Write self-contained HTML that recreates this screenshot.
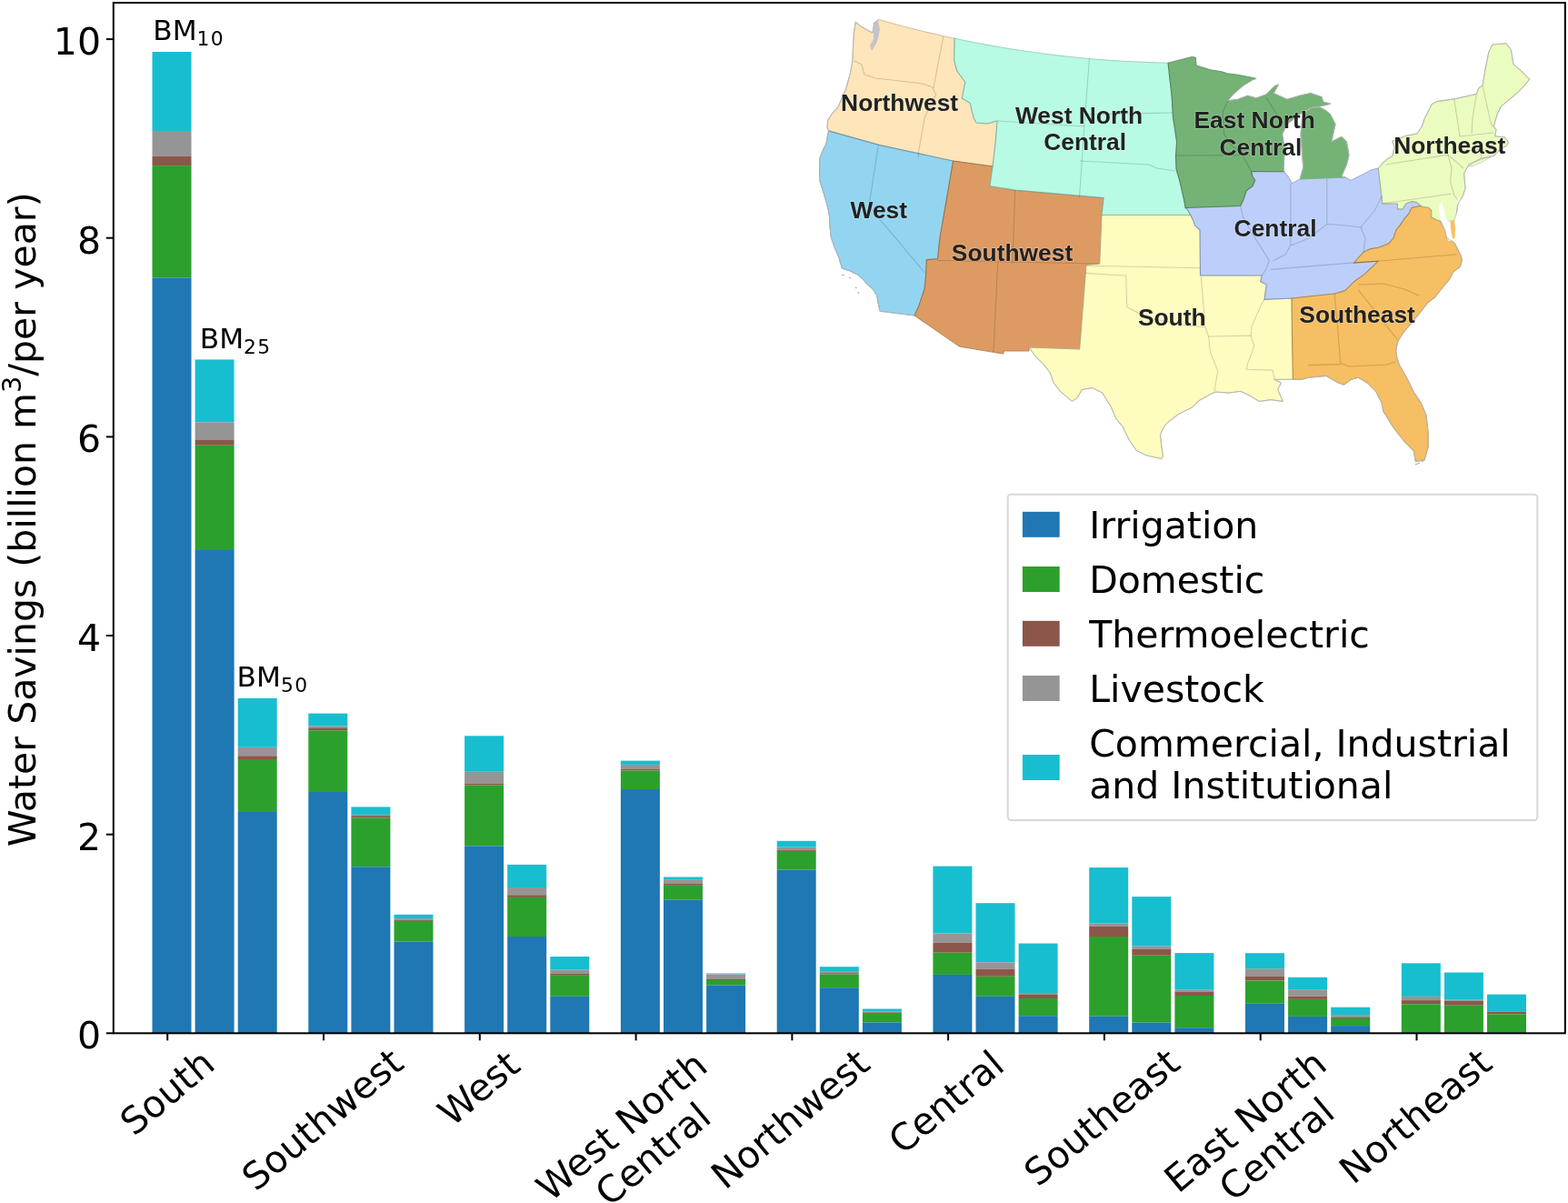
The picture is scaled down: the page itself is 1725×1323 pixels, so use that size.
<!DOCTYPE html>
<html><head><meta charset="utf-8"><title>Water Savings</title>
<style>
html,body{margin:0;padding:0;background:#fff;}
body{width:1725px;height:1323px;overflow:hidden;}
svg{display:block;}
.tk{font-family:"DejaVu Sans","Liberation Sans",sans-serif;font-size:41px;fill:#000;}
.bm{font-family:"DejaVu Sans","Liberation Sans",sans-serif;font-size:29.3px;fill:#000;}
.ml{font-family:"Liberation Sans",Arial,sans-serif;font-weight:bold;font-size:26.4px;fill:#222;stroke:#fff;stroke-opacity:0.3;stroke-width:1.6px;paint-order:stroke;stroke-linejoin:round;}
</style></head><body>
<svg width="1725" height="1323" viewBox="0 0 1725 1323">
<rect width="1725" height="1323" fill="#fff"/>
<rect x="167.5" y="57" width="43" height="87" fill="#17becf"/>
<rect x="167.5" y="144" width="43" height="27.8" fill="#959595"/>
<rect x="167.5" y="171.8" width="43" height="10.3" fill="#8c564b"/>
<rect x="167.5" y="182.1" width="43" height="123.3" fill="#2ca02c"/>
<rect x="167.5" y="305.4" width="43" height="830.9" fill="#1f77b4"/>
<rect x="214.6" y="395.4" width="43" height="69" fill="#17becf"/>
<rect x="214.6" y="464.4" width="43" height="19.6" fill="#959595"/>
<rect x="214.6" y="484" width="43" height="5.8" fill="#8c564b"/>
<rect x="214.6" y="489.8" width="43" height="115.2" fill="#2ca02c"/>
<rect x="214.6" y="605" width="43" height="531.3" fill="#1f77b4"/>
<rect x="261.7" y="767.9" width="43" height="53.9" fill="#17becf"/>
<rect x="261.7" y="821.8" width="43" height="9.5" fill="#959595"/>
<rect x="261.7" y="831.3" width="43" height="3.7" fill="#8c564b"/>
<rect x="261.7" y="835" width="43" height="57.1" fill="#2ca02c"/>
<rect x="261.7" y="892.1" width="43" height="244.2" fill="#1f77b4"/>
<rect x="339.3" y="784.6" width="43" height="14" fill="#17becf"/>
<rect x="339.3" y="798.6" width="43" height="1.7" fill="#959595"/>
<rect x="339.3" y="800.3" width="43" height="3" fill="#8c564b"/>
<rect x="339.3" y="803.3" width="43" height="67.7" fill="#2ca02c"/>
<rect x="339.3" y="871" width="43" height="265.3" fill="#1f77b4"/>
<rect x="386.4" y="887.4" width="43" height="8.5" fill="#17becf"/>
<rect x="386.4" y="895.9" width="43" height="1.3" fill="#959595"/>
<rect x="386.4" y="897.2" width="43" height="2.1" fill="#8c564b"/>
<rect x="386.4" y="899.3" width="43" height="54" fill="#2ca02c"/>
<rect x="386.4" y="953.3" width="43" height="183" fill="#1f77b4"/>
<rect x="433.5" y="1005.8" width="43" height="4.3" fill="#17becf"/>
<rect x="433.5" y="1010.1" width="43" height="1.4" fill="#959595"/>
<rect x="433.5" y="1011.5" width="43" height="1.4" fill="#8c564b"/>
<rect x="433.5" y="1012.9" width="43" height="22.8" fill="#2ca02c"/>
<rect x="433.5" y="1035.7" width="43" height="100.6" fill="#1f77b4"/>
<rect x="511.1" y="809.3" width="43" height="39.5" fill="#17becf"/>
<rect x="511.1" y="848.8" width="43" height="12.7" fill="#959595"/>
<rect x="511.1" y="861.5" width="43" height="1.8" fill="#8c564b"/>
<rect x="511.1" y="863.3" width="43" height="67.1" fill="#2ca02c"/>
<rect x="511.1" y="930.4" width="43" height="205.9" fill="#1f77b4"/>
<rect x="558.2" y="950.9" width="43" height="25.1" fill="#17becf"/>
<rect x="558.2" y="976" width="43" height="8.3" fill="#959595"/>
<rect x="558.2" y="984.3" width="43" height="2.6" fill="#8c564b"/>
<rect x="558.2" y="986.9" width="43" height="43.1" fill="#2ca02c"/>
<rect x="558.2" y="1030" width="43" height="106.3" fill="#1f77b4"/>
<rect x="605.3" y="1052" width="43" height="14.6" fill="#17becf"/>
<rect x="605.3" y="1066.6" width="43" height="3.9" fill="#959595"/>
<rect x="605.3" y="1070.5" width="43" height="1.6" fill="#8c564b"/>
<rect x="605.3" y="1072.1" width="43" height="23.7" fill="#2ca02c"/>
<rect x="605.3" y="1095.8" width="43" height="40.5" fill="#1f77b4"/>
<rect x="682.9" y="836.6" width="43" height="4.3" fill="#17becf"/>
<rect x="682.9" y="840.9" width="43" height="4.6" fill="#959595"/>
<rect x="682.9" y="845.5" width="43" height="2" fill="#8c564b"/>
<rect x="682.9" y="847.5" width="43" height="20.5" fill="#2ca02c"/>
<rect x="682.9" y="868" width="43" height="268.3" fill="#1f77b4"/>
<rect x="730" y="964.5" width="43" height="2.7" fill="#17becf"/>
<rect x="730" y="967.2" width="43" height="4.6" fill="#959595"/>
<rect x="730" y="971.8" width="43" height="2" fill="#8c564b"/>
<rect x="730" y="973.8" width="43" height="15.9" fill="#2ca02c"/>
<rect x="730" y="989.7" width="43" height="146.6" fill="#1f77b4"/>
<rect x="777.1" y="1070.5" width="43" height="1" fill="#17becf"/>
<rect x="777.1" y="1071.5" width="43" height="5" fill="#959595"/>
<rect x="777.1" y="1076.5" width="43" height="1.5" fill="#8c564b"/>
<rect x="777.1" y="1078" width="43" height="5.4" fill="#2ca02c"/>
<rect x="777.1" y="1083.4" width="43" height="52.9" fill="#1f77b4"/>
<rect x="854.7" y="924.8" width="43" height="6.9" fill="#17becf"/>
<rect x="854.7" y="931.7" width="43" height="2.8" fill="#959595"/>
<rect x="854.7" y="934.5" width="43" height="1.4" fill="#8c564b"/>
<rect x="854.7" y="935.9" width="43" height="20.7" fill="#2ca02c"/>
<rect x="854.7" y="956.6" width="43" height="179.7" fill="#1f77b4"/>
<rect x="901.8" y="1063.2" width="43" height="4.9" fill="#17becf"/>
<rect x="901.8" y="1068.1" width="43" height="2.1" fill="#959595"/>
<rect x="901.8" y="1070.2" width="43" height="1.4" fill="#8c564b"/>
<rect x="901.8" y="1071.6" width="43" height="14.6" fill="#2ca02c"/>
<rect x="901.8" y="1086.2" width="43" height="50.1" fill="#1f77b4"/>
<rect x="948.9" y="1109.5" width="43" height="3.1" fill="#17becf"/>
<rect x="948.9" y="1112.6" width="43" height="0.7" fill="#959595"/>
<rect x="948.9" y="1113.3" width="43" height="0.7" fill="#8c564b"/>
<rect x="948.9" y="1114" width="43" height="10.4" fill="#2ca02c"/>
<rect x="948.9" y="1124.4" width="43" height="11.9" fill="#1f77b4"/>
<rect x="1026.4" y="952.6" width="43" height="73.9" fill="#17becf"/>
<rect x="1026.4" y="1026.5" width="43" height="10.3" fill="#959595"/>
<rect x="1026.4" y="1036.8" width="43" height="10.9" fill="#8c564b"/>
<rect x="1026.4" y="1047.7" width="43" height="24.2" fill="#2ca02c"/>
<rect x="1026.4" y="1071.9" width="43" height="64.4" fill="#1f77b4"/>
<rect x="1073.5" y="993.2" width="43" height="65.1" fill="#17becf"/>
<rect x="1073.5" y="1058.3" width="43" height="7.5" fill="#959595"/>
<rect x="1073.5" y="1065.8" width="43" height="8" fill="#8c564b"/>
<rect x="1073.5" y="1073.8" width="43" height="22" fill="#2ca02c"/>
<rect x="1073.5" y="1095.8" width="43" height="40.5" fill="#1f77b4"/>
<rect x="1120.6" y="1037.5" width="43" height="54.5" fill="#17becf"/>
<rect x="1120.6" y="1092" width="43" height="1.5" fill="#959595"/>
<rect x="1120.6" y="1093.5" width="43" height="4.5" fill="#8c564b"/>
<rect x="1120.6" y="1098" width="43" height="19.2" fill="#2ca02c"/>
<rect x="1120.6" y="1117.2" width="43" height="19.1" fill="#1f77b4"/>
<rect x="1198.2" y="954.1" width="43" height="61.5" fill="#17becf"/>
<rect x="1198.2" y="1015.6" width="43" height="3.3" fill="#959595"/>
<rect x="1198.2" y="1018.9" width="43" height="11.1" fill="#8c564b"/>
<rect x="1198.2" y="1030" width="43" height="87.7" fill="#2ca02c"/>
<rect x="1198.2" y="1117.7" width="43" height="18.6" fill="#1f77b4"/>
<rect x="1245.3" y="986.1" width="43" height="54.5" fill="#17becf"/>
<rect x="1245.3" y="1040.6" width="43" height="3" fill="#959595"/>
<rect x="1245.3" y="1043.6" width="43" height="7.2" fill="#8c564b"/>
<rect x="1245.3" y="1050.8" width="43" height="73.7" fill="#2ca02c"/>
<rect x="1245.3" y="1124.5" width="43" height="11.8" fill="#1f77b4"/>
<rect x="1292.4" y="1048.1" width="43" height="40.5" fill="#17becf"/>
<rect x="1292.4" y="1088.6" width="43" height="1.9" fill="#959595"/>
<rect x="1292.4" y="1090.5" width="43" height="4.5" fill="#8c564b"/>
<rect x="1292.4" y="1095" width="43" height="35.2" fill="#2ca02c"/>
<rect x="1292.4" y="1130.2" width="43" height="6.1" fill="#1f77b4"/>
<rect x="1370" y="1048.2" width="43" height="17" fill="#17becf"/>
<rect x="1370" y="1065.2" width="43" height="8.7" fill="#959595"/>
<rect x="1370" y="1073.9" width="43" height="4.6" fill="#8c564b"/>
<rect x="1370" y="1078.5" width="43" height="25.3" fill="#2ca02c"/>
<rect x="1370" y="1103.8" width="43" height="32.5" fill="#1f77b4"/>
<rect x="1417.1" y="1074.8" width="43" height="13.4" fill="#17becf"/>
<rect x="1417.1" y="1088.2" width="43" height="7.5" fill="#959595"/>
<rect x="1417.1" y="1095.7" width="43" height="3.2" fill="#8c564b"/>
<rect x="1417.1" y="1098.9" width="43" height="19" fill="#2ca02c"/>
<rect x="1417.1" y="1117.9" width="43" height="18.4" fill="#1f77b4"/>
<rect x="1464.2" y="1107.7" width="43" height="8.4" fill="#17becf"/>
<rect x="1464.2" y="1116.1" width="43" height="2.9" fill="#959595"/>
<rect x="1464.2" y="1119" width="43" height="1" fill="#8c564b"/>
<rect x="1464.2" y="1120" width="43" height="8.1" fill="#2ca02c"/>
<rect x="1464.2" y="1128.1" width="43" height="8.2" fill="#1f77b4"/>
<rect x="1541.8" y="1059.3" width="43" height="36.6" fill="#17becf"/>
<rect x="1541.8" y="1095.9" width="43" height="4.2" fill="#959595"/>
<rect x="1541.8" y="1100.1" width="43" height="4.2" fill="#8c564b"/>
<rect x="1541.8" y="1104.3" width="43" height="31.2" fill="#2ca02c"/>
<rect x="1541.8" y="1135.5" width="43" height="0.8" fill="#1f77b4"/>
<rect x="1588.9" y="1069.5" width="43" height="30.1" fill="#17becf"/>
<rect x="1588.9" y="1099.6" width="43" height="1.4" fill="#959595"/>
<rect x="1588.9" y="1101" width="43" height="4.7" fill="#8c564b"/>
<rect x="1588.9" y="1105.7" width="43" height="29.8" fill="#2ca02c"/>
<rect x="1588.9" y="1135.5" width="43" height="0.8" fill="#1f77b4"/>
<rect x="1636" y="1093.6" width="43" height="18.4" fill="#17becf"/>
<rect x="1636" y="1112" width="43" height="0.5" fill="#959595"/>
<rect x="1636" y="1112.5" width="43" height="2.9" fill="#8c564b"/>
<rect x="1636" y="1115.4" width="43" height="20.1" fill="#2ca02c"/>
<rect x="1636" y="1135.5" width="43" height="0.8" fill="#1f77b4"/>
<polygon points="967,21.6 980.9,25.5 994.7,29.2 1008.5,32.7 1022.4,36.1 1036.2,39.3 1050.1,42.3 1049.7,67.1 1052.8,78 1061.7,90.3 1058.3,108 1067.1,113.4 1071.2,129.7 1074,135 1086,136 1097,133 1095,158 1092,183 1048.5,177 968,159.6 911.5,143.9 910,140 910.6,132.4 916,124 922.2,117.5 926,108 930.4,98.4 935,82 937.9,67.1 938.5,50.8 939.5,35 941.3,24.1 947,29 955,33.5 960,36 961,30 963,24 967,21.8" fill="#fee5ba" stroke="#fee5ba" stroke-width="0.8" stroke-linejoin="round"/>
<polygon points="911.5,143.9 968,159.6 1048.5,177 1040.2,225.6 1034.1,260.4 1031.5,284.7 1019.3,285.6 1018.5,303.9 1017,318 1010.6,336.9 1006,347 968,342.2 966,333 964.6,324.8 960,318 954.1,312.6 949,307 943.7,302.2 935,298 926.3,295.2 922.8,283 918,272 914.1,260.4 913,250 912.4,237.8 911,230 908.9,222.2 906,212 902,199.6 901.5,186 902,173.5 905.4,164.8 908.9,157.8 911.5,143.9" fill="#93d5f0" stroke="#93d5f0" stroke-width="0.8" stroke-linejoin="round"/>
<polygon points="1048.5,177 1092,183 1088.9,204.8 1116.7,209.1 1214.1,217.6 1212,236.5 1209.8,290 1195,291.5 1187.7,384 1132,382 1132,386 1104.5,386 1103.7,389.1 1055.8,381.2 1006,347 1010.6,336.9 1017,318 1018.5,303.9 1019.3,285.6 1031.5,284.7 1034.1,260.4 1040.2,225.6 1048.5,177" fill="#dd9b63" stroke="#dd9b63" stroke-width="0.8" stroke-linejoin="round"/>
<polygon points="1050.1,42.3 1069.7,46.3 1089.2,49.9 1108.8,53.3 1128.4,56.3 1148,59 1167.5,61.4 1187.1,63.5 1206.7,65.2 1226.3,66.7 1245.8,67.8 1265.4,68.6 1285,69.2 1287,88 1289.2,107 1290.4,128.8 1292.2,140 1294.5,156 1293.5,172 1294,186 1297.5,198 1300,208.5 1303,222 1304,228.5 1306.4,230.5 1309.7,236.5 1212,236.5 1214.1,217.6 1116.7,209.1 1088.9,204.8 1092,183 1095,158 1097,133 1086,136 1074,135 1071.2,129.7 1067.1,113.4 1058.3,108 1061.7,90.3 1052.8,78 1049.7,67.1 1050.1,41.3" fill="#b8fbe4" stroke="#b8fbe4" stroke-width="0.8" stroke-linejoin="round"/>
<polygon points="1309.7,236.5 1313,243.2 1314.7,248.2 1320,253 1320.5,303 1388.3,303 1386.6,309.7 1393.3,313 1391,329.4 1421,328 1421.5,370 1422.4,417.3 1409.4,417.3 1402,417.3 1409.4,421 1405.7,428.4 1411.3,441.4 1398.3,439.6 1385.3,441.4 1376,435.8 1364.9,430.3 1351.9,432.1 1337.1,431 1330,434.4 1319.1,440.5 1311.6,448 1296.4,455.5 1284,465 1280.2,470 1276.5,478 1277.7,489.6 1279.6,502.6 1277.7,504.5 1261,500.8 1249.9,495.2 1242.4,484.1 1235,469.2 1227.6,460 1222,447 1212.8,432.1 1201.6,426.6 1190.5,428.4 1184.9,437.7 1179.4,441.4 1166.4,430.3 1159,421 1155.3,409.9 1147.8,400.6 1138.6,391.3 1132,382 1187.7,384 1195,291.5 1209.8,290 1212,236.5 1309.7,236.5" fill="#fffcc0" stroke="#fffcc0" stroke-width="0.8" stroke-linejoin="round"/>
<polygon points="1364.6,226.5 1367.9,219.9 1371.2,209.9 1378,204.7 1380.7,198 1378,194 1376.6,188.5 1412.7,188.8 1416.5,193.3 1421.5,201.6 1430,197 1479.7,194.9 1483,196.6 1486.4,198.3 1496.3,193.3 1509.6,186.6 1516.3,185 1520.8,224 1537.4,224 1537.4,229.9 1543.2,229.9 1546.6,224 1553.2,221.5 1558.2,222.4 1563.2,226.5 1553.2,228.2 1549.9,234.8 1544.9,240.7 1539.9,248.1 1535.7,253.1 1533.3,261.4 1527.4,268.1 1516.6,272.2 1506.7,273.9 1500,277.2 1489.7,288.9 1516.3,287.2 1501.3,301.4 1489.7,309.7 1479.7,319.6 1468.1,323 1421,328 1391,329.4 1393.3,313 1386.6,309.7 1388.3,303 1320.5,303 1320,253 1314.7,248.2 1313,243.2 1309.7,236.5 1306.4,230.5 1304,228.5 1364.6,226.5" fill="#bccffb" stroke="#bccffb" stroke-width="0.8" stroke-linejoin="round"/>
<polygon points="1285,69.2 1311.3,62.5 1315.4,63.2 1316,72 1331.7,76.8 1344,78.8 1350.7,80.9 1361.6,82.2 1375.2,84.9 1382,86.3 1378,87.7 1367.1,94.5 1356.2,104 1350.7,110.8 1361.6,109.4 1372.5,105.3 1382,108 1392.9,104 1402.4,94.5 1406.5,93.1 1401.1,102.6 1416,109.4 1429.7,105.3 1441.9,102.6 1454.1,106.7 1455.5,112.1 1463.7,114.2 1455.5,116.2 1440.5,119 1429.7,125.7 1416,136.6 1410.6,147.5 1413.3,163.8 1412,184.2 1412.7,188.8 1376.6,188.5 1378,194 1380.7,198 1378,204.7 1371.2,209.9 1367.9,219.9 1364.6,226.5 1304,228.5 1303,222 1300,208.5 1297.5,198 1294,186 1293.5,172 1294.5,156 1292.2,140 1290.4,128.8 1289.2,107 1287,88 1285,69.2" fill="#74b276" stroke="#74b276" stroke-width="0.8" stroke-linejoin="round"/>
<polygon points="1421,328 1468.1,323 1479.7,319.6 1489.7,309.7 1501.3,301.4 1516.3,287.2 1489.7,288.9 1500,277.2 1506.7,273.9 1516.6,272.2 1527.4,268.1 1533.3,261.4 1535.7,253.1 1539.9,248.1 1544.9,240.7 1549.9,234.8 1553.2,228.2 1563.2,226.5 1564.8,227.4 1571.5,228.2 1574.8,231.5 1574.8,239 1579.8,241.5 1584.8,243.2 1589.8,253.1 1591.4,261.4 1598,265.6 1600.6,267.9 1604.5,275.7 1607,281 1608.4,286 1606.4,293.4 1598.6,299.3 1594.7,307.2 1584.8,319 1578.9,326.8 1571.1,332.7 1563.2,342.6 1555.3,352.4 1543.5,366.2 1537.6,376 1535.7,385.8 1537,394 1539.6,401.6 1547.5,415.3 1555.3,431.1 1563.2,442.9 1569.1,456.6 1571.1,476.3 1571.1,492 1567.1,505.8 1557.3,507.7 1555.3,496 1545.5,486.1 1537.6,476.3 1531.7,468.4 1525.8,458.6 1521.9,452.7 1519.9,442.9 1514,431.1 1504.2,421.2 1494.4,415.3 1486.5,417.3 1478.6,423.2 1472.7,421.2 1459,413.4 1439.3,415.3 1432.4,417.3 1422.4,417.3 1421.5,370 1421,328" fill="#f6bf63" stroke="#f6bf63" stroke-width="0.8" stroke-linejoin="round"/>
<polygon points="1516.3,185 1520.8,179.7 1526,175 1531.7,171.5 1534,162 1531.7,155.2 1545.3,149.7 1558.9,147 1564.4,138.8 1567.1,130.7 1575.2,114.4 1580.7,111.6 1599.7,108.9 1624.2,103.5 1626.9,96.7 1631,94 1633.7,77.6 1637.8,57.2 1641.9,49 1656.9,47.7 1662.3,54.5 1665,70.8 1673.2,77.6 1682.7,87.1 1677.3,93.9 1667.8,103.5 1661,108.9 1651.4,117.1 1647.3,125.2 1643.3,138.8 1646,142.9 1644.6,149.7 1655.5,151.1 1659.6,156.5 1656.9,160.6 1651.4,163.3 1643.3,171.5 1629.7,174.2 1616,181 1610.6,190.5 1612,207.2 1609.3,215.4 1605.2,222.2 1603.8,224.9 1602.4,234.4 1600,242 1595.6,243 1584.8,243.2 1579.8,241.5 1574.8,239 1574.8,231.5 1571.5,228.2 1564.8,227.4 1563.2,226.5 1558.2,222.4 1553.2,221.5 1546.6,224 1543.2,229.9 1537.4,229.9 1537.4,224 1520.8,224 1516.3,185" fill="#ebfcc0" stroke="#ebfcc0" stroke-width="0.8" stroke-linejoin="round"/>
<polygon points="967,21.6 980.9,25.5 994.7,29.2 1008.5,32.7 1022.4,36.1 1036.2,39.3 1050.1,42.3 1049.7,67.1 1052.8,78 1061.7,90.3 1058.3,108 1067.1,113.4 1071.2,129.7 1074,135 1086,136 1097,133 1095,158 1092,183 1048.5,177 968,159.6 911.5,143.9 910,140 910.6,132.4 916,124 922.2,117.5 926,108 930.4,98.4 935,82 937.9,67.1 938.5,50.8 939.5,35 941.3,24.1 947,29 955,33.5 960,36 961,30 963,24 967,21.8" fill="none" stroke="#000" stroke-opacity="0.16" stroke-width="1.1" stroke-linejoin="round"/>
<polygon points="911.5,143.9 968,159.6 1048.5,177 1040.2,225.6 1034.1,260.4 1031.5,284.7 1019.3,285.6 1018.5,303.9 1017,318 1010.6,336.9 1006,347 968,342.2 966,333 964.6,324.8 960,318 954.1,312.6 949,307 943.7,302.2 935,298 926.3,295.2 922.8,283 918,272 914.1,260.4 913,250 912.4,237.8 911,230 908.9,222.2 906,212 902,199.6 901.5,186 902,173.5 905.4,164.8 908.9,157.8 911.5,143.9" fill="none" stroke="#000" stroke-opacity="0.16" stroke-width="1.1" stroke-linejoin="round"/>
<polygon points="1048.5,177 1092,183 1088.9,204.8 1116.7,209.1 1214.1,217.6 1212,236.5 1209.8,290 1195,291.5 1187.7,384 1132,382 1132,386 1104.5,386 1103.7,389.1 1055.8,381.2 1006,347 1010.6,336.9 1017,318 1018.5,303.9 1019.3,285.6 1031.5,284.7 1034.1,260.4 1040.2,225.6 1048.5,177" fill="none" stroke="#000" stroke-opacity="0.16" stroke-width="1.1" stroke-linejoin="round"/>
<polygon points="1050.1,42.3 1069.7,46.3 1089.2,49.9 1108.8,53.3 1128.4,56.3 1148,59 1167.5,61.4 1187.1,63.5 1206.7,65.2 1226.3,66.7 1245.8,67.8 1265.4,68.6 1285,69.2 1287,88 1289.2,107 1290.4,128.8 1292.2,140 1294.5,156 1293.5,172 1294,186 1297.5,198 1300,208.5 1303,222 1304,228.5 1306.4,230.5 1309.7,236.5 1212,236.5 1214.1,217.6 1116.7,209.1 1088.9,204.8 1092,183 1095,158 1097,133 1086,136 1074,135 1071.2,129.7 1067.1,113.4 1058.3,108 1061.7,90.3 1052.8,78 1049.7,67.1 1050.1,41.3" fill="none" stroke="#000" stroke-opacity="0.16" stroke-width="1.1" stroke-linejoin="round"/>
<polygon points="1309.7,236.5 1313,243.2 1314.7,248.2 1320,253 1320.5,303 1388.3,303 1386.6,309.7 1393.3,313 1391,329.4 1421,328 1421.5,370 1422.4,417.3 1409.4,417.3 1402,417.3 1409.4,421 1405.7,428.4 1411.3,441.4 1398.3,439.6 1385.3,441.4 1376,435.8 1364.9,430.3 1351.9,432.1 1337.1,431 1330,434.4 1319.1,440.5 1311.6,448 1296.4,455.5 1284,465 1280.2,470 1276.5,478 1277.7,489.6 1279.6,502.6 1277.7,504.5 1261,500.8 1249.9,495.2 1242.4,484.1 1235,469.2 1227.6,460 1222,447 1212.8,432.1 1201.6,426.6 1190.5,428.4 1184.9,437.7 1179.4,441.4 1166.4,430.3 1159,421 1155.3,409.9 1147.8,400.6 1138.6,391.3 1132,382 1187.7,384 1195,291.5 1209.8,290 1212,236.5 1309.7,236.5" fill="none" stroke="#000" stroke-opacity="0.16" stroke-width="1.1" stroke-linejoin="round"/>
<polygon points="1364.6,226.5 1367.9,219.9 1371.2,209.9 1378,204.7 1380.7,198 1378,194 1376.6,188.5 1412.7,188.8 1416.5,193.3 1421.5,201.6 1430,197 1479.7,194.9 1483,196.6 1486.4,198.3 1496.3,193.3 1509.6,186.6 1516.3,185 1520.8,224 1537.4,224 1537.4,229.9 1543.2,229.9 1546.6,224 1553.2,221.5 1558.2,222.4 1563.2,226.5 1553.2,228.2 1549.9,234.8 1544.9,240.7 1539.9,248.1 1535.7,253.1 1533.3,261.4 1527.4,268.1 1516.6,272.2 1506.7,273.9 1500,277.2 1489.7,288.9 1516.3,287.2 1501.3,301.4 1489.7,309.7 1479.7,319.6 1468.1,323 1421,328 1391,329.4 1393.3,313 1386.6,309.7 1388.3,303 1320.5,303 1320,253 1314.7,248.2 1313,243.2 1309.7,236.5 1306.4,230.5 1304,228.5 1364.6,226.5" fill="none" stroke="#000" stroke-opacity="0.16" stroke-width="1.1" stroke-linejoin="round"/>
<polygon points="1285,69.2 1311.3,62.5 1315.4,63.2 1316,72 1331.7,76.8 1344,78.8 1350.7,80.9 1361.6,82.2 1375.2,84.9 1382,86.3 1378,87.7 1367.1,94.5 1356.2,104 1350.7,110.8 1361.6,109.4 1372.5,105.3 1382,108 1392.9,104 1402.4,94.5 1406.5,93.1 1401.1,102.6 1416,109.4 1429.7,105.3 1441.9,102.6 1454.1,106.7 1455.5,112.1 1463.7,114.2 1455.5,116.2 1440.5,119 1429.7,125.7 1416,136.6 1410.6,147.5 1413.3,163.8 1412,184.2 1412.7,188.8 1376.6,188.5 1378,194 1380.7,198 1378,204.7 1371.2,209.9 1367.9,219.9 1364.6,226.5 1304,228.5 1303,222 1300,208.5 1297.5,198 1294,186 1293.5,172 1294.5,156 1292.2,140 1290.4,128.8 1289.2,107 1287,88 1285,69.2" fill="none" stroke="#000" stroke-opacity="0.16" stroke-width="1.1" stroke-linejoin="round"/>
<polygon points="1421,328 1468.1,323 1479.7,319.6 1489.7,309.7 1501.3,301.4 1516.3,287.2 1489.7,288.9 1500,277.2 1506.7,273.9 1516.6,272.2 1527.4,268.1 1533.3,261.4 1535.7,253.1 1539.9,248.1 1544.9,240.7 1549.9,234.8 1553.2,228.2 1563.2,226.5 1564.8,227.4 1571.5,228.2 1574.8,231.5 1574.8,239 1579.8,241.5 1584.8,243.2 1589.8,253.1 1591.4,261.4 1598,265.6 1600.6,267.9 1604.5,275.7 1607,281 1608.4,286 1606.4,293.4 1598.6,299.3 1594.7,307.2 1584.8,319 1578.9,326.8 1571.1,332.7 1563.2,342.6 1555.3,352.4 1543.5,366.2 1537.6,376 1535.7,385.8 1537,394 1539.6,401.6 1547.5,415.3 1555.3,431.1 1563.2,442.9 1569.1,456.6 1571.1,476.3 1571.1,492 1567.1,505.8 1557.3,507.7 1555.3,496 1545.5,486.1 1537.6,476.3 1531.7,468.4 1525.8,458.6 1521.9,452.7 1519.9,442.9 1514,431.1 1504.2,421.2 1494.4,415.3 1486.5,417.3 1478.6,423.2 1472.7,421.2 1459,413.4 1439.3,415.3 1432.4,417.3 1422.4,417.3 1421.5,370 1421,328" fill="none" stroke="#000" stroke-opacity="0.16" stroke-width="1.1" stroke-linejoin="round"/>
<polygon points="1516.3,185 1520.8,179.7 1526,175 1531.7,171.5 1534,162 1531.7,155.2 1545.3,149.7 1558.9,147 1564.4,138.8 1567.1,130.7 1575.2,114.4 1580.7,111.6 1599.7,108.9 1624.2,103.5 1626.9,96.7 1631,94 1633.7,77.6 1637.8,57.2 1641.9,49 1656.9,47.7 1662.3,54.5 1665,70.8 1673.2,77.6 1682.7,87.1 1677.3,93.9 1667.8,103.5 1661,108.9 1651.4,117.1 1647.3,125.2 1643.3,138.8 1646,142.9 1644.6,149.7 1655.5,151.1 1659.6,156.5 1656.9,160.6 1651.4,163.3 1643.3,171.5 1629.7,174.2 1616,181 1610.6,190.5 1612,207.2 1609.3,215.4 1605.2,222.2 1603.8,224.9 1602.4,234.4 1600,242 1595.6,243 1584.8,243.2 1579.8,241.5 1574.8,239 1574.8,231.5 1571.5,228.2 1564.8,227.4 1563.2,226.5 1558.2,222.4 1553.2,221.5 1546.6,224 1543.2,229.9 1537.4,229.9 1537.4,224 1520.8,224 1516.3,185" fill="none" stroke="#000" stroke-opacity="0.16" stroke-width="1.1" stroke-linejoin="round"/>
<polygon points="1430,197 1433.7,184.2 1432.4,167.9 1431,147.5 1432.4,131.2 1437.8,121.7 1444.6,117.6 1452,118 1458,121 1463.7,125.7 1469.1,136.6 1466.4,148.9 1465,155.7 1475.9,150.2 1481.4,155.7 1484.1,170.6 1481.4,181.5 1475.9,193.8 1479.7,194.9" fill="#74b276" stroke="#74b276" stroke-width="0.8"/>
<polygon points="1595.6,243 1600,242 1601,250 1600.6,261.4 1598,262.5 1596,252" fill="#f6bf63"/>
<polygon points="1583.1,224 1586.5,223.2 1588.1,228.2 1589.8,236.5 1591.4,240.7 1593.9,244.8 1594.7,253.1 1596.4,261.4 1597.2,264.8 1593.1,264.8 1590.6,257.3 1588.1,249 1585.6,243.2 1584,236.5 1582.3,228.2" fill="#fff"/>
<polygon points="1603.5,217 1608,220.5 1606,226 1603,224" fill="#fff"/>
<polygon points="1616,183 1622,178.5 1635,173.5 1640,172.5 1631,178 1620,183" fill="#ebfcc0" stroke="#b8b8b8" stroke-width="0.6"/>
<polygon points="960.5,25 966,23.5 968,32 966.5,40 964.5,47 959,56 957,50 961,43 961,36" fill="#c4c4c8"/>
<path d="M926,302.5h3M934,305.5h2M941,316l1.5,1M944,321l1,2M1557,511l5,-2M1564,508l4,-3" stroke="#b0b0b0" stroke-width="1.2" fill="none"/>
<polyline points="939.9,67.1 948,71 951,82 963,86 990,89 1015,92 1025.6,95.7 1029.7,103.9" fill="none" stroke="#000" stroke-opacity="0.16" stroke-width="1.1" stroke-linejoin="round"/>
<polyline points="1037.9,39.9 1032,70 1027,97" fill="none" stroke="#000" stroke-opacity="0.16" stroke-width="1.1" stroke-linejoin="round"/>
<polyline points="1029.7,103.9 1017.4,128.4 1010.6,166.5 1010.2,173" fill="none" stroke="#000" stroke-opacity="0.16" stroke-width="1.1" stroke-linejoin="round"/>
<polyline points="966.3,159.6 955.9,227 1017.5,300" fill="none" stroke="#000" stroke-opacity="0.16" stroke-width="1.1" stroke-linejoin="round"/>
<polyline points="1116.7,209.1 1114,290" fill="none" stroke="#000" stroke-opacity="0.16" stroke-width="1.1" stroke-linejoin="round"/>
<polyline points="1097.6,288.5 1093,387" fill="none" stroke="#000" stroke-opacity="0.16" stroke-width="1.1" stroke-linejoin="round"/>
<polyline points="1031.5,286.5 1209.8,290" fill="none" stroke="#000" stroke-opacity="0.16" stroke-width="1.1" stroke-linejoin="round"/>
<polyline points="1198.4,64.9 1192.9,138.4 1187.5,217" fill="none" stroke="#000" stroke-opacity="0.16" stroke-width="1.1" stroke-linejoin="round"/>
<polyline points="1097,133 1192.9,139" fill="none" stroke="#000" stroke-opacity="0.16" stroke-width="1.1" stroke-linejoin="round"/>
<polyline points="1193.5,126 1290,124" fill="none" stroke="#000" stroke-opacity="0.16" stroke-width="1.1" stroke-linejoin="round"/>
<polyline points="1188,177 1263.5,181 1273,185 1293,188" fill="none" stroke="#000" stroke-opacity="0.16" stroke-width="1.1" stroke-linejoin="round"/>
<polyline points="1350.7,110.8 1345.3,123 1346.7,147.5 1356.2,161.1 1367.1,170.6 1372,180 1376.6,188.5" fill="none" stroke="#000" stroke-opacity="0.16" stroke-width="1.1" stroke-linejoin="round"/>
<polyline points="1292.7,171 1367.1,170.6" fill="none" stroke="#000" stroke-opacity="0.16" stroke-width="1.1" stroke-linejoin="round"/>
<polyline points="1392.9,107 1407.9,131.2 1409.3,139.4" fill="none" stroke="#000" stroke-opacity="0.16" stroke-width="1.1" stroke-linejoin="round"/>
<polyline points="1419.9,201.6 1419.9,269.8 1414,280 1400,287" fill="none" stroke="#000" stroke-opacity="0.16" stroke-width="1.1" stroke-linejoin="round"/>
<polyline points="1459.8,196 1459.8,246.5" fill="none" stroke="#000" stroke-opacity="0.16" stroke-width="1.1" stroke-linejoin="round"/>
<polyline points="1520.8,215 1512,232 1497,250 1480,248 1459.8,246.5 1440,262 1420,270" fill="none" stroke="#000" stroke-opacity="0.16" stroke-width="1.1" stroke-linejoin="round"/>
<polyline points="1398,296.4 1489.7,288.9" fill="none" stroke="#000" stroke-opacity="0.16" stroke-width="1.1" stroke-linejoin="round"/>
<polyline points="1364.6,226.5 1367.9,239.8 1379.5,259.8 1387.9,273.1 1396.2,286.4 1393,296 1388.3,303" fill="none" stroke="#000" stroke-opacity="0.16" stroke-width="1.1" stroke-linejoin="round"/>
<polyline points="1497,250 1502,262 1500,277.2" fill="none" stroke="#000" stroke-opacity="0.16" stroke-width="1.1" stroke-linejoin="round"/>
<polyline points="1195,292.2 1320.5,294.7" fill="none" stroke="#000" stroke-opacity="0.16" stroke-width="1.1" stroke-linejoin="round"/>
<polyline points="1194.2,300.4 1238.7,303.2 1239.7,337.5 1249.9,343.1 1268.4,350.5 1287,354.2 1305.5,357.9 1325.9,359.8" fill="none" stroke="#000" stroke-opacity="0.16" stroke-width="1.1" stroke-linejoin="round"/>
<polyline points="1321.3,304.1 1325.9,359.8 1329.6,370 1376,369.1" fill="none" stroke="#000" stroke-opacity="0.16" stroke-width="1.1" stroke-linejoin="round"/>
<polyline points="1329.6,370 1331.5,387.6 1339.8,408 1336.1,430" fill="none" stroke="#000" stroke-opacity="0.16" stroke-width="1.1" stroke-linejoin="round"/>
<polyline points="1391,329.4 1387.2,335.7 1381.6,348.6 1377,359.8 1376,369.1 1379.7,380.2 1376,391.3 1372.3,400.6 1371.4,406.2 1400.1,407.1 1402,417.3" fill="none" stroke="#000" stroke-opacity="0.16" stroke-width="1.1" stroke-linejoin="round"/>
<polyline points="1468.1,323 1471.8,362.2 1474.7,399.6 1484,403 1525.8,401 1535,398" fill="none" stroke="#000" stroke-opacity="0.16" stroke-width="1.1" stroke-linejoin="round"/>
<polyline points="1439.3,401.6 1474.7,400.6" fill="none" stroke="#000" stroke-opacity="0.16" stroke-width="1.1" stroke-linejoin="round"/>
<polyline points="1494.4,313 1521.9,312 1545,318 1561.2,324.9" fill="none" stroke="#000" stroke-opacity="0.16" stroke-width="1.1" stroke-linejoin="round"/>
<polyline points="1494.4,319 1515,345 1537.6,374" fill="none" stroke="#000" stroke-opacity="0.16" stroke-width="1.1" stroke-linejoin="round"/>
<polyline points="1488.5,289.5 1602.5,279.7" fill="none" stroke="#000" stroke-opacity="0.16" stroke-width="1.1" stroke-linejoin="round"/>
<polyline points="1524.9,181 1592.9,170.1 1610,185" fill="none" stroke="#000" stroke-opacity="0.16" stroke-width="1.1" stroke-linejoin="round"/>
<polyline points="1592.9,170.1 1597,185 1595.5,200 1600,215 1604,220" fill="none" stroke="#000" stroke-opacity="0.16" stroke-width="1.1" stroke-linejoin="round"/>
<polyline points="1520.8,224 1597,213" fill="none" stroke="#000" stroke-opacity="0.16" stroke-width="1.1" stroke-linejoin="round"/>
<polyline points="1599.7,108.9 1603,130 1606,150" fill="none" stroke="#000" stroke-opacity="0.16" stroke-width="1.1" stroke-linejoin="round"/>
<polyline points="1624.2,103.5 1620,130 1619,147" fill="none" stroke="#000" stroke-opacity="0.16" stroke-width="1.1" stroke-linejoin="round"/>
<polyline points="1631,94 1640,135 1643,140" fill="none" stroke="#000" stroke-opacity="0.16" stroke-width="1.1" stroke-linejoin="round"/>
<polyline points="1606,150 1643,146" fill="none" stroke="#000" stroke-opacity="0.16" stroke-width="1.1" stroke-linejoin="round"/>
<polyline points="1600,167 1645,163" fill="none" stroke="#000" stroke-opacity="0.16" stroke-width="1.1" stroke-linejoin="round"/>
<polyline points="1628,163 1630,174" fill="none" stroke="#000" stroke-opacity="0.16" stroke-width="1.1" stroke-linejoin="round"/>
<polyline points="911.5,143.9 910,140 910.6,132.4 916,124 922.2,117.5 926,108 930.4,98.4 935,82 937.9,67.1 938.5,50.8 939.5,35 941.3,24.1 947,29 955,33.5 960,36 961,30 963,24 967,21.8" fill="none" stroke="#b4b4b4" stroke-width="0.9" stroke-linejoin="round"/>
<polyline points="911.5,143.9 908.9,157.8 905.4,164.8 902,173.5 901.5,186 902,199.6 906,212 908.9,222.2 911,230 912.4,237.8 913,250 914.1,260.4 918,272 922.8,283 926.3,295.2 935,298 943.7,302.2 949,307 954.1,312.6 960,318 964.6,324.8 966,333 968,342.2 1006,347" fill="none" stroke="#b4b4b4" stroke-width="0.9" stroke-linejoin="round"/>
<polyline points="1422.4,417.3 1409.4,417.3 1402,417.3 1409.4,421 1405.7,428.4 1411.3,441.4 1398.3,439.6 1385.3,441.4 1376,435.8 1364.9,430.3 1351.9,432.1 1337.1,431 1330,434.4 1319.1,440.5 1311.6,448 1296.4,455.5 1284,465 1280.2,470 1276.5,478 1277.7,489.6 1279.6,502.6 1277.7,504.5 1261,500.8 1249.9,495.2 1242.4,484.1 1235,469.2 1227.6,460 1222,447 1212.8,432.1 1201.6,426.6 1190.5,428.4 1184.9,437.7 1179.4,441.4 1166.4,430.3 1159,421 1155.3,409.9 1147.8,400.6 1138.6,391.3 1132,382" fill="none" stroke="#b4b4b4" stroke-width="0.9" stroke-linejoin="round"/>
<polyline points="1584.8,243.2 1589.8,253.1 1591.4,261.4 1598,265.6 1600.6,267.9 1604.5,275.7 1607,281 1608.4,286 1606.4,293.4 1598.6,299.3 1594.7,307.2 1584.8,319 1578.9,326.8 1571.1,332.7 1563.2,342.6 1555.3,352.4 1543.5,366.2 1537.6,376 1535.7,385.8 1537,394 1539.6,401.6 1547.5,415.3 1555.3,431.1 1563.2,442.9 1569.1,456.6 1571.1,476.3 1571.1,492 1567.1,505.8 1557.3,507.7 1555.3,496 1545.5,486.1 1537.6,476.3 1531.7,468.4 1525.8,458.6 1521.9,452.7 1519.9,442.9 1514,431.1 1504.2,421.2 1494.4,415.3 1486.5,417.3 1478.6,423.2 1472.7,421.2 1459,413.4 1439.3,415.3 1432.4,417.3 1422.4,417.3" fill="none" stroke="#b4b4b4" stroke-width="0.9" stroke-linejoin="round"/>
<polyline points="1516.3,185 1520.8,179.7 1526,175 1531.7,171.5 1534,162 1531.7,155.2 1545.3,149.7 1558.9,147 1564.4,138.8 1567.1,130.7 1575.2,114.4 1580.7,111.6 1599.7,108.9 1624.2,103.5 1626.9,96.7 1631,94 1633.7,77.6 1637.8,57.2 1641.9,49 1656.9,47.7 1662.3,54.5 1665,70.8 1673.2,77.6 1682.7,87.1 1677.3,93.9 1667.8,103.5 1661,108.9 1651.4,117.1 1647.3,125.2 1643.3,138.8 1646,142.9 1644.6,149.7 1655.5,151.1 1659.6,156.5 1656.9,160.6 1651.4,163.3 1643.3,171.5 1629.7,174.2 1616,181 1610.6,190.5 1612,207.2 1609.3,215.4 1605.2,222.2 1603.8,224.9 1602.4,234.4" fill="none" stroke="#b4b4b4" stroke-width="0.9" stroke-linejoin="round"/>
<polyline points="1382,86.3 1378,87.7 1367.1,94.5 1356.2,104 1350.7,110.8 1361.6,109.4 1372.5,105.3 1382,108 1392.9,104 1402.4,94.5 1406.5,93.1 1401.1,102.6 1416,109.4 1429.7,105.3 1441.9,102.6 1454.1,106.7 1455.5,112.1 1463.7,114.2 1455.5,116.2 1440.5,119 1429.7,125.7 1416,136.6 1410.6,147.5 1413.3,163.8 1412,184.2 1412.7,188.8" fill="none" stroke="#b4b4b4" stroke-width="0.9" stroke-linejoin="round"/>
<polyline points="1430,197 1433.7,184.2 1432.4,167.9 1431,147.5 1432.4,131.2 1437.8,121.7 1444.6,117.6 1452,118 1458,121 1463.7,125.7 1469.1,136.6 1466.4,148.9 1465,155.7 1475.9,150.2 1481.4,155.7 1484.1,170.6 1481.4,181.5 1475.9,193.8 1479.7,194.9" fill="none" stroke="#b4b4b4" stroke-width="0.9" stroke-linejoin="round"/>
<text x="925.1" y="122.2" class="ml">Northwest</text>
<text x="1116.9" y="135.6" class="ml">West North</text>
<text x="1148.2" y="164.9" class="ml">Central</text>
<text x="1313.5" y="141.4" class="ml">East North</text>
<text x="1341.4" y="171.3" class="ml">Central</text>
<text x="1533.2" y="168.8" class="ml">Northeast</text>
<text x="935.5" y="239.6" class="ml">West</text>
<text x="1046.8" y="286.5" class="ml">Southwest</text>
<text x="1357.6" y="259.8" class="ml">Central</text>
<text x="1251.9" y="358.4" class="ml">South</text>
<text x="1429.3" y="355.4" class="ml">Southeast</text>
<rect x="124.8" y="3" width="1597" height="1133.3" fill="none" stroke="#000" stroke-width="2"/>
<line x1="116.8" y1="1136.3" x2="124.8" y2="1136.3" stroke="#000" stroke-width="2"/>
<text x="111" y="1153.2" class="tk" text-anchor="end">0</text>
<line x1="116.8" y1="917.7" x2="124.8" y2="917.7" stroke="#000" stroke-width="2"/>
<text x="111" y="934.6" class="tk" text-anchor="end">2</text>
<line x1="116.8" y1="699" x2="124.8" y2="699" stroke="#000" stroke-width="2"/>
<text x="111" y="715.9" class="tk" text-anchor="end">4</text>
<line x1="116.8" y1="480.4" x2="124.8" y2="480.4" stroke="#000" stroke-width="2"/>
<text x="111" y="497.3" class="tk" text-anchor="end">6</text>
<line x1="116.8" y1="261.7" x2="124.8" y2="261.7" stroke="#000" stroke-width="2"/>
<text x="111" y="278.6" class="tk" text-anchor="end">8</text>
<line x1="116.8" y1="43.1" x2="124.8" y2="43.1" stroke="#000" stroke-width="2"/>
<text x="111" y="60" class="tk" text-anchor="end">10</text>
<line x1="184.2" y1="1136.3" x2="184.2" y2="1144.3" stroke="#000" stroke-width="2"/>
<line x1="356" y1="1136.3" x2="356" y2="1144.3" stroke="#000" stroke-width="2"/>
<line x1="527.8" y1="1136.3" x2="527.8" y2="1144.3" stroke="#000" stroke-width="2"/>
<line x1="699.6" y1="1136.3" x2="699.6" y2="1144.3" stroke="#000" stroke-width="2"/>
<line x1="871.4" y1="1136.3" x2="871.4" y2="1144.3" stroke="#000" stroke-width="2"/>
<line x1="1043.1" y1="1136.3" x2="1043.1" y2="1144.3" stroke="#000" stroke-width="2"/>
<line x1="1214.9" y1="1136.3" x2="1214.9" y2="1144.3" stroke="#000" stroke-width="2"/>
<line x1="1386.7" y1="1136.3" x2="1386.7" y2="1144.3" stroke="#000" stroke-width="2"/>
<line x1="1558.5" y1="1136.3" x2="1558.5" y2="1144.3" stroke="#000" stroke-width="2"/>
<text class="tk xl" text-anchor="middle" transform="translate(183.7,1201.1) rotate(-40)" y="14.5">South</text>
<text class="tk xl" text-anchor="middle" transform="translate(354.6,1230.9) rotate(-40)" y="14.5">Southwest</text>
<text class="tk xl" text-anchor="middle" transform="translate(526.6,1196.7) rotate(-40)" y="14.5">West</text>
<text class="tk xl" text-anchor="middle" transform="translate(701,1253.8) rotate(-40)"><tspan x="-3.25" y="-8.5">West North</tspan><tspan x="3.25" y="37.4">Central</tspan></text>
<text class="tk xl" text-anchor="middle" transform="translate(869.3,1230.4) rotate(-40)" y="14.5">Northwest</text>
<text class="tk xl" text-anchor="middle" transform="translate(1040.8,1212) rotate(-40)" y="14.5">Central</text>
<text class="tk xl" text-anchor="middle" transform="translate(1211.9,1228.6) rotate(-40)" y="14.5">Southeast</text>
<text class="tk xl" text-anchor="middle" transform="translate(1387.1,1248.3) rotate(-40)"><tspan x="-3.25" y="-8.5">East North</tspan><tspan x="3.25" y="37.4">Central</tspan></text>
<text class="tk xl" text-anchor="middle" transform="translate(1557,1227.2) rotate(-40)" y="14.5">Northeast</text>
<text class="tk" text-anchor="middle" transform="translate(39,571.2) rotate(-90)">Water Savings (billion m<tspan dy="-15.6" font-size="28.7">3</tspan><tspan dy="15.6">/per year)</tspan></text>
<text class="bm" transform="translate(168.3,43.8) scale(1.065,1)">BM<tspan dy="6" font-size="20.5" letter-spacing="1.3">10</tspan></text>
<text class="bm" transform="translate(219.8,382.6) scale(1.065,1)">BM<tspan dy="6" font-size="20.5" letter-spacing="1.3">25</tspan></text>
<text class="bm" transform="translate(260.6,754.8) scale(1.065,1)">BM<tspan dy="6" font-size="20.5" letter-spacing="1.3">50</tspan></text>
<rect x="1108.7" y="543.7" width="582.6" height="358.3" rx="3.5" ry="3.5" fill="#fff" fill-opacity="0.8" stroke="#d8d8d8" stroke-width="2"/>
<rect x="1124.9" y="562.8" width="40.8" height="28" fill="#1f77b4"/>
<text x="1198.2" y="591.8" class="tk">Irrigation</text>
<rect x="1124.9" y="623" width="40.8" height="28" fill="#2ca02c"/>
<text x="1198.2" y="652" class="tk">Domestic</text>
<rect x="1124.9" y="682.8" width="40.8" height="28" fill="#8c564b"/>
<text x="1198.2" y="711.8" class="tk">Thermoelectric</text>
<rect x="1124.9" y="743" width="40.8" height="28" fill="#959595"/>
<text x="1198.2" y="772" class="tk">Livestock</text>
<rect x="1124.9" y="830" width="40.8" height="28" fill="#17becf"/>
<text x="1198.2" y="832" class="tk">Commercial, Industrial</text>
<text x="1198.2" y="877.5" class="tk">and Institutional</text>
</svg>
</body></html>
